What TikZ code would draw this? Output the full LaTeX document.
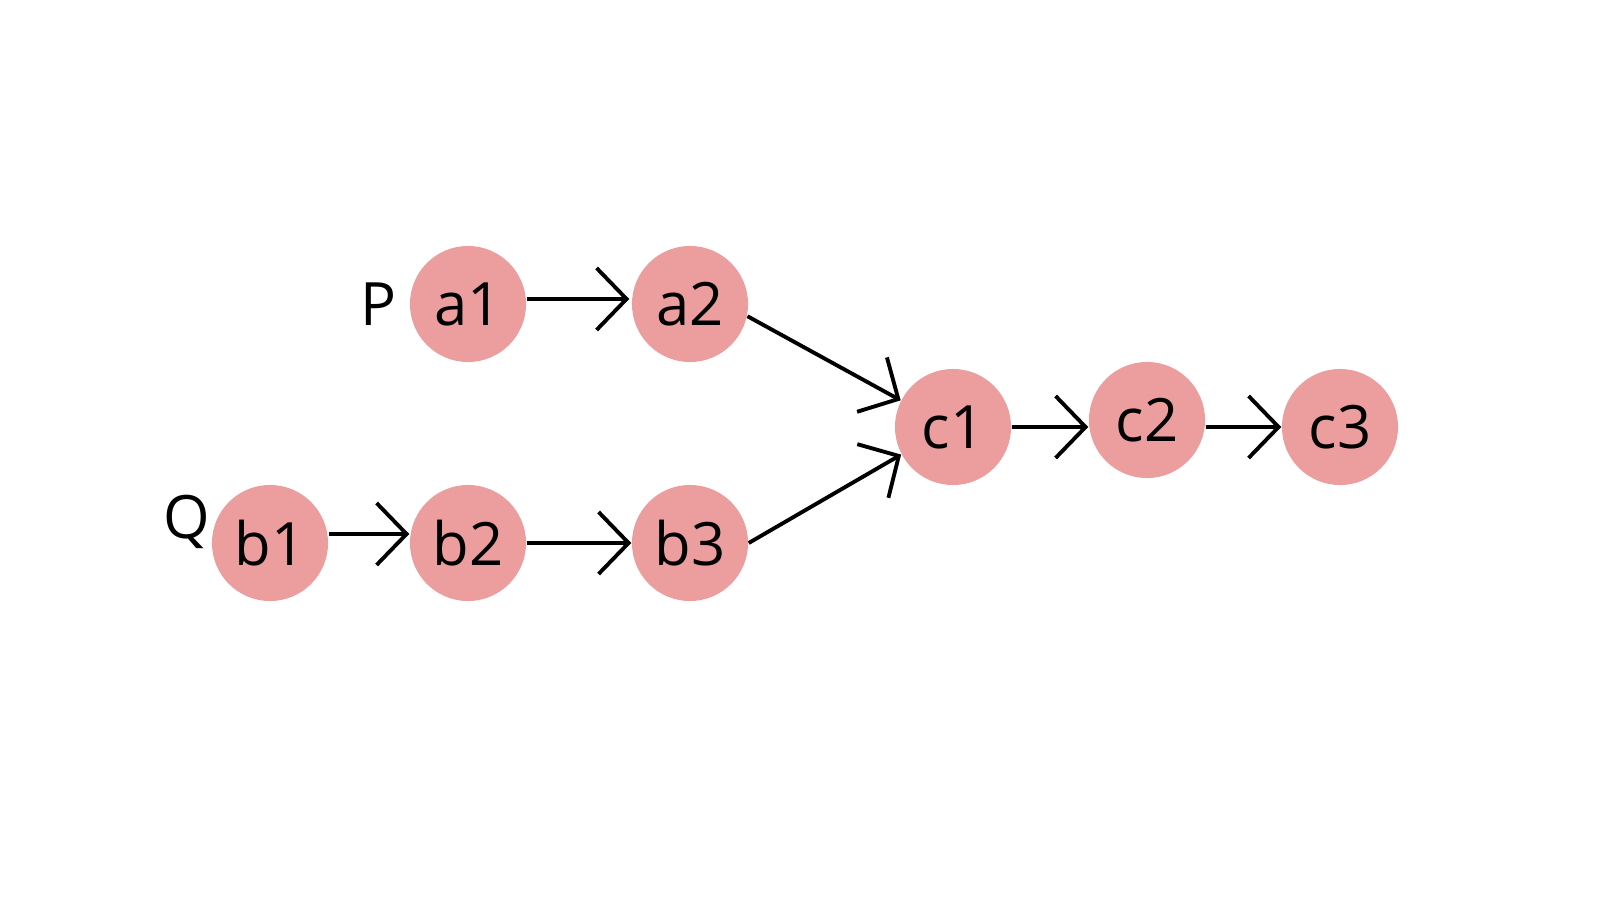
\documentclass[tikz,border=0pt]{standalone}
\usepackage{fontspec}
\setmainfont{Open Sans}
\usetikzlibrary{arrows.meta}
\definecolor{nodepink}{HTML}{EC9E9E}
\begin{document}
\begin{tikzpicture}[x=0.01cm,y=-0.01cm,
  dot/.style={circle,fill=nodepink,minimum size=1.16cm,inner sep=0pt,font=\fontsize{17}{20}\selectfont},
  lbl/.style={font=\fontsize{17}{20}\selectfont},
  link/.style={line width=1.1pt,-{Straight Barb[length=0.3cm,width=0.62cm,line width=1.1pt]}}]
\useasboundingbox (0,0) rectangle (1600,900);
\node[dot] (a1) at (468,304) {a1};
\node[dot] (a2) at (690,304) {a2};
\node[dot] (b1) at (270,543) {b1};
\node[dot] (b2) at (468,543) {b2};
\node[dot] (b3) at (690,543) {b3};
\node[dot] (c1) at (953,427) {c1};
\node[dot] (c2) at (1147,420) {c2};
\node[dot] (c3) at (1340,427) {c3};
\node[lbl] (P) at (378,304) {P};
\node[lbl] (Q) at (187,522) {Q};
\draw[link] ([yshift=0.05cm]a1.east) -- ([yshift=0.05cm,xshift=-0.02cm]a2.west);
\draw[link] ([yshift=0.09cm]b1.east) -- ([yshift=0.09cm]b2.west);
\draw[link] (b2.east) -- (b3.west);
\draw[link] (a2.-12) -- (c1.153);
\draw[link] (b3.east) -- (c1.208);
\draw[link] (c1.east) -- ([yshift=-0.07cm]c2.west);
\draw[link] ([yshift=-0.07cm]c2.east) -- (c3.west);
\end{tikzpicture}
\end{document}
